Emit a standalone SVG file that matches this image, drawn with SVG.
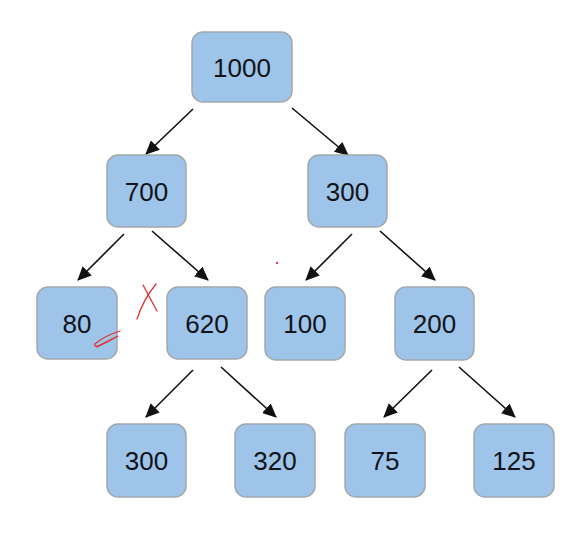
<svg xmlns="http://www.w3.org/2000/svg" width="585" height="553" viewBox="0 0 585 553">
<defs>
<style>
.n rect{fill:#9fc4ea;stroke:#a3a8ad;stroke-width:1.5}
.n text{font-family:"Liberation Sans",Arial,sans-serif;font-size:26px;fill:#111318;text-anchor:middle}
.c line{stroke:#111;stroke-width:1.6;marker-end:url(#ah)}
.red{fill:none;stroke:#e03030;stroke-width:1.3;stroke-linecap:round}
</style>
<marker id="ah" markerUnits="userSpaceOnUse" markerWidth="14" markerHeight="13" viewBox="0 0 14 13" refX="13" refY="6.5" orient="auto">
<path d="M0,0 L14,6.5 L0,13 z" fill="#111"/>
</marker>
</defs>
<rect width="585" height="553" fill="#fff"/>
<g id="connectors" class="c">
<line x1="193" y1="109" x2="146" y2="154"/>
<line x1="292" y1="108" x2="348" y2="155"/>
<line x1="124" y1="234" x2="78" y2="280"/>
<line x1="152" y1="231" x2="208" y2="280"/>
<line x1="352" y1="234" x2="306" y2="280"/>
<line x1="380" y1="231" x2="435" y2="280"/>
<line x1="193" y1="370" x2="146" y2="417"/>
<line x1="221" y1="367" x2="276" y2="417"/>
<line x1="432" y1="370" x2="384" y2="417"/>
<line x1="459" y1="367" x2="515" y2="417"/>
</g>
<g id="n1000" class="n"><rect x="192" y="32" width="100" height="70" rx="11"/><text x="242" y="77">1000</text></g>
<g id="n700" class="n"><rect x="107" y="155" width="79" height="72" rx="11"/><text x="146.5" y="201">700</text></g>
<g id="n300a" class="n"><rect x="308" y="155" width="79" height="72" rx="11"/><text x="347.5" y="201">300</text></g>
<g id="n80" class="n"><rect x="37" y="287" width="80" height="72" rx="11"/><text x="77" y="333">80</text></g>
<g id="n620" class="n"><rect x="167" y="287" width="80" height="72" rx="11"/><text x="207" y="333">620</text></g>
<g id="n100" class="n"><rect x="265" y="287" width="80" height="73" rx="11"/><text x="305" y="333">100</text></g>
<g id="n200" class="n"><rect x="395" y="287" width="79" height="73" rx="11"/><text x="434.5" y="333">200</text></g>
<g id="n300b" class="n"><rect x="107" y="424" width="79" height="73" rx="11"/><text x="146.5" y="470">300</text></g>
<g id="n320" class="n"><rect x="235" y="424" width="80" height="73" rx="11"/><text x="275" y="470">320</text></g>
<g id="n75" class="n"><rect x="345" y="424" width="80" height="73" rx="11"/><text x="385" y="470">75</text></g>
<g id="n125" class="n"><rect x="474" y="424" width="80" height="73" rx="11"/><text x="514" y="470">125</text></g>
<g id="annotations">
<path class="red" d="M137,319 Q143,300 156,284"/>
<path class="red" d="M143,285 Q150,298 157,311"/>
<path class="red" d="M120,331 Q104,336 95,344 Q94,348 100,345 Q110,340 118,336 Q108,342 97,347"/>
<circle cx="277" cy="263" r="1.2" fill="#d04050"/>
</g>
</svg>
